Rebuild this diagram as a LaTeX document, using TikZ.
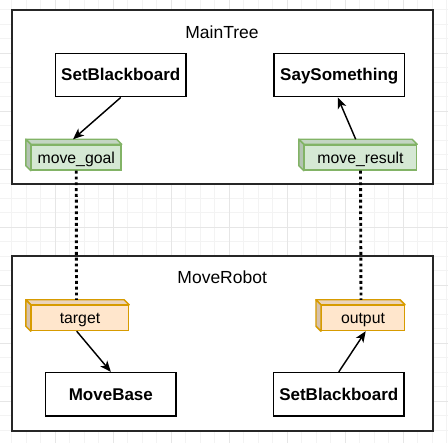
\documentclass[tikz,border=0pt]{standalone}
\usepackage{fontspec}
\setmainfont{Liberation Sans}
\usetikzlibrary{arrows.meta}
\definecolor{gfill}{HTML}{D5E8D4}
\definecolor{gstroke}{HTML}{82B366}
\definecolor{ofill}{HTML}{FFE6CC}
\definecolor{ostroke}{HTML}{D79B00}
\definecolor{gridminor}{HTML}{F3F3F3}
\definecolor{gridmajor}{HTML}{E6E6E6}
\tikzset{
  container/.style={draw=black!85, line width=1.45pt, fill=white},
  title/.style={anchor=base, inner sep=0pt, font=\fontsize{17.5}{20}\selectfont},
  btnode/.style={draw=black, line width=1.45pt, fill=white, minimum width=130.5pt,
    minimum height=43.5pt, inner sep=0pt, text height=12pt, text depth=0pt,
    font=\bfseries\fontsize{17}{20}\selectfont},
  port/.style={line width=1.45pt, minimum height=25pt, inner sep=0pt,
    text height=11.6pt, text depth=0pt, font=\fontsize{15.8}{19}\selectfont},
  gport/.style={port, draw=gstroke, fill=gfill},
  oport/.style={port, draw=ostroke, fill=ofill},
  arrow/.style={line width=1.45pt, -{Stealth[length=11pt, width=9pt, inset=3pt]}},
  dotline/.style={line width=2.9pt, dash pattern=on 2.9pt off 2.9pt},
}
\newcommand{\cubesides}[3]{%
  \filldraw[fill=#2!92!black, draw=#3, line width=1.45pt, line join=round]
    (#1.north west) -- ([shift={(-5,-5)}]#1.north west) -- ([shift={(-5,-5)}]#1.north east) -- (#1.north east) -- cycle;
  \filldraw[fill=#2!84!black, draw=#3, line width=1.45pt, line join=round]
    (#1.north west) -- ([shift={(-5,-5)}]#1.north west) -- ([shift={(-5,-5)}]#1.south west) -- (#1.south west) -- cycle;
}
\begin{document}
\begin{tikzpicture}[x=1pt, y=-1pt]
\useasboundingbox (0,0) rectangle (448,443);
\fill[white] (0,0) rectangle (448,443);
% background grid
\foreach \i in {0,...,31} {
  \draw[gridminor, line width=1pt] ({-2.8+14.5*\i},0) -- ({-2.8+14.5*\i},443);
  \draw[gridminor, line width=1pt] (0,{-4.5+14.5*\i}) -- (448,{-4.5+14.5*\i});
}
\foreach \i in {0,4,...,28} {
  \draw[gridmajor, line width=1pt] ({-2.8+14.5*\i},0) -- ({-2.8+14.5*\i},443);
  \draw[gridmajor, line width=1pt] (0,{-4.5+14.5*\i}) -- (448,{-4.5+14.5*\i});
}
% containers
\draw[container] (12,10) rectangle (433,184);
\node[title] (t1) at (222,39) {MainTree};
\draw[container] (12,256) rectangle (433,431);
\node[title] (t2) at (222.2,284) {MoveRobot};
% behaviour nodes
\node[btnode] (sb1) at (120.75,75) {SetBlackboard};
\node[btnode] (ss)  at (339.25,75) {SaySomething};
\node[btnode] (mb)  at (110.85,394.35) {MoveBase};
\node[btnode] (sb2) at (338.8,394.35) {SetBlackboard};
% ports
\node[gport, minimum width=89.5pt] (mg) at (76.25,157.5) {move\_goal};
\cubesides{mg}{gfill}{gstroke}
\node[gport, minimum width=112pt] (mr) at (360.5,157.5) {move\_result};
\cubesides{mr}{gfill}{gstroke}
\node[oport, minimum width=97pt] (tg) at (80,318) {target};
\cubesides{tg}{ofill}{ostroke}
\node[oport, minimum width=82.6pt] (op) at (363,318) {output};
\cubesides{op}{ofill}{ostroke}
% connectors
\draw[arrow] (sb1.south) -- ([shift={(-3.25,-5)}]mg.north);
\draw[arrow] ([shift={(-4.8,-5)}]mr.north) -- ([xshift=-1.5pt]ss.south);
\draw[arrow] ([xshift=-3.3pt]tg.south) -- (mb.north);
\draw[arrow] (sb2.north) -- ([xshift=2.7pt]op.south);
\draw[dotline] (mg.south) -- ([shift={(-3.5,-5)}]tg.north);
\draw[dotline] (mr.south) -- ([shift={(-2,-5)}]op.north);
\end{tikzpicture}
\end{document}
